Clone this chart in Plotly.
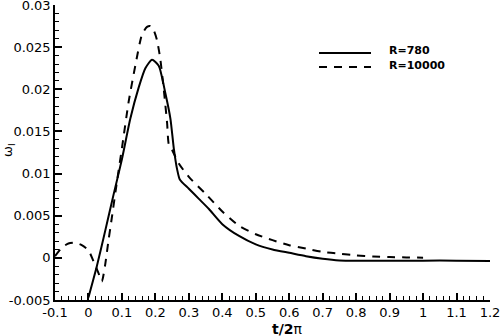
import plotly.graph_objects as go

# R=780 (solid)
x_780 = [0.0, 0.025, 0.05, 0.075, 0.1, 0.125, 0.15, 0.17, 0.19, 0.21, 0.23, 0.245, 0.255, 0.265,
         0.273, 0.3, 0.33, 0.36, 0.4, 0.45, 0.5, 0.55, 0.6, 0.65, 0.7, 0.75, 0.8, 0.9, 1.0, 1.1, 1.2]
y_780 = [-0.0047, -0.0010, 0.0032, 0.0075, 0.0117, 0.0165, 0.0202, 0.0225, 0.0235, 0.0228, 0.0195,
         0.0165, 0.0130, 0.0105, 0.0093, 0.0082, 0.0070, 0.0058, 0.0040, 0.0026, 0.0016, 0.0010,
         0.0006, 0.0002, -0.0001, -0.0003, -0.00035, -0.00035, -0.00033, -0.00033, -0.00037]

# R=10000 (dashed)
x_10000 = [-0.1, -0.08, -0.06, -0.04, -0.02, 0.0, 0.015, 0.03, 0.04, 0.05, 0.06, 0.07, 0.085, 0.1,
           0.12, 0.14, 0.16, 0.175, 0.185, 0.195, 0.205, 0.215, 0.225, 0.235, 0.24, 0.25, 0.27, 0.3,
           0.35, 0.4, 0.45, 0.5, 0.55, 0.6, 0.65, 0.7, 0.75, 0.8, 0.85, 0.9, 0.95, 1.0]
y_10000 = [0.0002, 0.0012, 0.0017, 0.0018, 0.0015, 0.0009, -0.0004, -0.0018, -0.0028, -0.0008,
           0.0021, 0.0048, 0.0090, 0.0130, 0.0185, 0.0228, 0.0265, 0.0274, 0.0275, 0.0270, 0.0258,
           0.0235, 0.0200, 0.0160, 0.0135, 0.0128, 0.0112, 0.0096, 0.0076, 0.0055, 0.0038, 0.0028,
           0.0021, 0.0015, 0.0011, 0.0007, 0.0005, 0.0003, 0.00017, 0.0001, 0.00005, 0.00002]

series_names = ["R=780", "R=10000"]
x_ticks = [-0.1, 0, 0.1, 0.2, 0.3, 0.4, 0.5, 0.6, 0.7, 0.8, 0.9, 1.0, 1.1, 1.2]
x_labels = ["-0.1", "0", "0.1", "0.2", "0.3", "0.4", "0.5", "0.6", "0.7", "0.8", "0.9", "1", "1.1", "1.2"]
y_ticks = [-0.005, 0, 0.005, 0.01, 0.015, 0.02, 0.025, 0.03]
y_labels = ["-0.005", "0", "0.005", "0.01", "0.015", "0.02", "0.025", "0.03"]

W, H = 500, 336
ML, MR, MT, MB = 55, 10, 5, 36
PW, PH = W - ML - MR, H - MT - MB


def px(xp):
    return (xp - ML) / PW


def py(yp):
    return (H - MB - yp) / PH


dashes = ["solid", "8px,7px"]

fig = go.Figure()
fig.add_trace(go.Scatter(x=x_780, y=y_780, mode="lines", name=series_names[0],
                         line=dict(color="black", width=2, shape="spline", smoothing=0.6)))
fig.add_trace(go.Scatter(x=x_10000, y=y_10000, mode="lines", name=series_names[1],
                         line=dict(color="black", width=2, dash=dashes[1], shape="spline",
                                   smoothing=0.6)))

# manual legend (sample lines + labels)
shapes = []
annotations = []
for i, name in enumerate(series_names):
    ly = 53 + 14 * i
    shapes.append(dict(type="line", xref="paper", yref="paper", x0=px(319), x1=px(371),
                       y0=py(ly), y1=py(ly), line=dict(color="black", width=2, dash=dashes[i])))
    annotations.append(dict(text=f"<b>{name}</b>", xref="paper", yref="paper", x=px(387),
                            y=py(ly - 2), xanchor="left", yanchor="middle", showarrow=False,
                            font=dict(family="DejaVu Sans", size=11, color="black")))

annotations += [
    dict(text="<b>t/2</b>π", xref="paper", yref="paper", x=px(287), y=py(329),
         xanchor="center", yanchor="middle", showarrow=False,
         font=dict(family="DejaVu Sans", size=14, color="black")),
    dict(text="ω<sub>I</sub>", xref="paper", yref="paper", x=px(8), y=py(150),
         xanchor="center", yanchor="middle", showarrow=False, textangle=-90,
         font=dict(family="DejaVu Sans", size=13, color="black")),
]

axis_font = dict(family="DejaVu Sans", size=13, color="black")
common = dict(ticks="inside", ticklen=7, tickwidth=1.5, tickcolor="black", automargin=False,
              ticklabeloverflow="allow", showline=True, linecolor="black", linewidth=1.5,
              showgrid=False, zeroline=False, tickfont=axis_font)
fig.update_layout(
    width=W, height=H,
    margin=dict(l=ML, r=MR, t=MT, b=MB),
    paper_bgcolor="white", plot_bgcolor="white",
    showlegend=False,
    xaxis=dict(range=[-0.1, 1.2], tickvals=x_ticks, ticktext=x_labels,
               minor=dict(ticks="inside", dtick=0.02, ticklen=4, tickwidth=1, tickcolor="black",
                          showgrid=False), **common),
    yaxis=dict(range=[-0.005, 0.03], tickvals=y_ticks, ticktext=y_labels,
               minor=dict(ticks="inside", dtick=0.001, ticklen=4, tickwidth=1, tickcolor="black",
                          showgrid=False), **common),
    shapes=shapes,
    annotations=annotations,
)

fig.write_html("out.html", config={"displayModeBar": False},
               post_script="document.body.style.margin='0';")
